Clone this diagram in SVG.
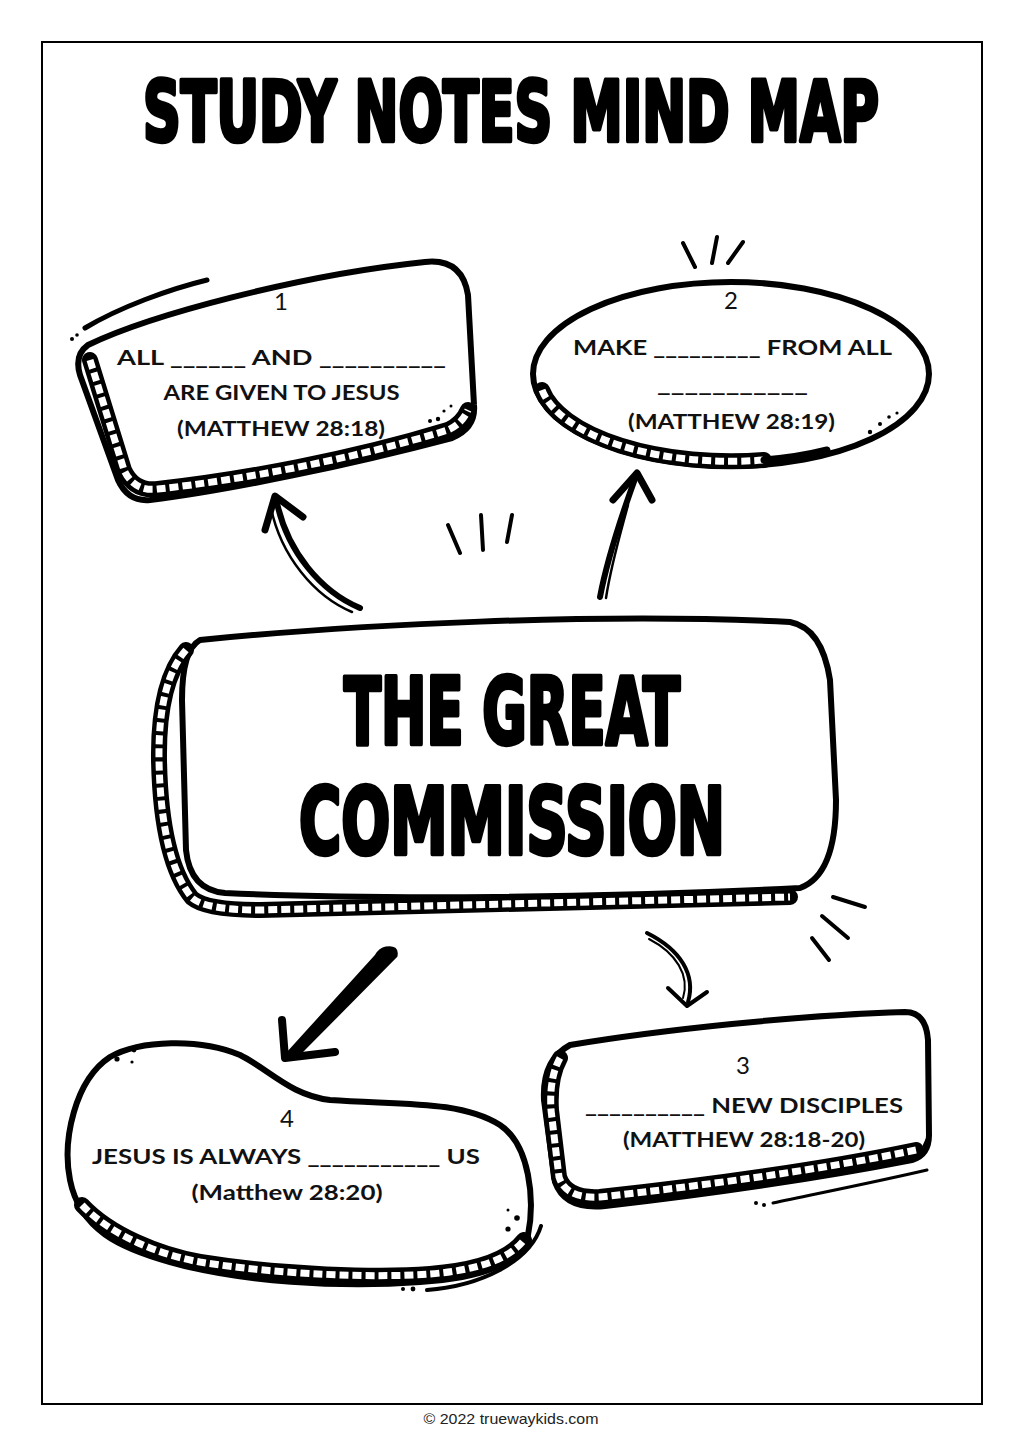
<svg xmlns="http://www.w3.org/2000/svg" width="1024" height="1447" viewBox="0 0 1024 1447">
<style>
.ol{fill:#fff;stroke:#000;stroke-width:6;stroke-linejoin:round;stroke-linecap:round}
.bandB{fill:none;stroke:#000;stroke-width:16;stroke-linecap:round;stroke-linejoin:round}
.bandW{fill:none;stroke:#fff;stroke-width:7;stroke-dasharray:9 4}
.ln{fill:none;stroke:#000;stroke-linecap:round;stroke-linejoin:round}
.hd{font-family:"Liberation Sans Narrow","DejaVu Sans Condensed","Liberation Sans",sans-serif;font-weight:bold;fill:#000;stroke:#000;stroke-width:4.5;stroke-linejoin:round;text-anchor:middle}
.tx{font-family:Lato,"Liberation Sans",sans-serif;font-weight:bold;font-size:21px;fill:#111;text-anchor:middle}
.num{font-family:Lato,"Liberation Sans",sans-serif;font-size:24px;fill:#111;text-anchor:middle}
.dot{fill:#000}
</style>
<rect x="42" y="42" width="940" height="1362" fill="#fff" stroke="#000" stroke-width="2"/>
<g id="title">
<text class="hd" x="511" y="141" font-size="84" textLength="736" lengthAdjust="spacingAndGlyphs">STUDY NOTES MIND MAP</text>
</g>
<g id="connectors">
<path class="ln" stroke-width="6" d="M360,608 C322,592 286,552 276,498"/>
<path class="ln" stroke-width="2.5" d="M352,612 C314,596 281,556 271,508"/>
<path class="ln" stroke-width="7" d="M265,530 L275,496 L303,517"/>
<path class="ln" stroke-width="6" d="M600,597 C607,560 620,520 636,476"/>
<path class="ln" stroke-width="2.5" d="M606,598 C611,565 620,535 628,505"/>
<path class="ln" stroke-width="7" d="M613,500 L637,473 L652,500"/>
<path d="M386,948 Q398,946 396,956 L298,1055 L288,1053 L376,956 Q380,949 386,948 Z" fill="#000" stroke="#000" stroke-width="3" stroke-linejoin="round"/>
<path class="ln" stroke="#fff" stroke-width="1.5" d="M388,953 L312,1032"/>
<path class="ln" stroke-width="8" d="M282,1020 L285,1058 L335,1052"/>
<path class="ln" stroke-width="4" d="M647,933 C681,950 696,975 688,1002"/>
<path class="ln" stroke-width="2" d="M649,939 C676,953 690,975 683,998"/>
<path class="ln" stroke-width="4" d="M668,988 L687,1006 L707,992"/>
</g>
<g id="bursts">
<path class="ln" stroke-width="4" d="M683,243 L695,267 M717,237 L712,263 M743,242 L728,263"/>
<path class="ln" stroke-width="4" d="M448,525 L460,553 M481,515 L483,550 M512,515 L507,542"/>
<path class="ln" stroke-width="4" d="M833,897 L865,907 M822,916 L848,938 M812,938 L829,960"/>
</g>
<g id="node1">
<path class="ol" d="M88,345 C150,315 300,275 425,262 Q462,258 468,295 L474,405 Q476,428 452,438 C350,465 230,490 150,500 Q128,502 118,480 L80,375 Q74,355 88,345 Z"/>
<path class="bandB" d="M90,360 L124,470 Q134,492 158,489 C240,480 350,460 448,430 Q462,424 468,410"/>
<path class="bandW" d="M90,360 L124,470 Q134,492 158,489 C240,480 350,460 448,430 Q462,424 468,410"/>
<path class="ln" stroke-width="5" d="M85,328 C120,307 170,289 207,280"/>
<circle class="dot" cx="72" cy="339" r="2"/><circle class="dot" cx="77" cy="335" r="1.8"/>
<circle class="dot" cx="430" cy="421" r="2"/><circle class="dot" cx="438" cy="419" r="2.2"/><circle class="dot" cx="444" cy="411" r="1.6"/><circle class="dot" cx="451" cy="406" r="1.5"/>
<text class="num" x="281" y="310">1</text>
<text class="tx" x="281.5" y="365" textLength="329" lengthAdjust="spacingAndGlyphs">ALL ______ AND __________</text>
<text class="tx" x="281.5" y="400" textLength="236" lengthAdjust="spacingAndGlyphs">ARE GIVEN TO JESUS</text>
<text class="tx" x="281" y="436" textLength="208" lengthAdjust="spacingAndGlyphs">(MATTHEW 28:18)</text>
</g>
<g id="node2">
<ellipse class="ol" cx="731" cy="374" rx="198" ry="92"/>
<path class="bandB" stroke-width="12" d="M542,390 A192 86 0 0 0 764,460"/>
<path class="bandW" stroke-width="5" d="M542,390 A192 86 0 0 0 764,460"/>
<path class="ln" stroke-width="7" d="M764,460 A192 86 0 0 0 827,450"/>
<path class="ln" stroke="#fff" stroke-width="2" stroke-dasharray="14 4" d="M766,459 A192 86 0 0 0 825,450"/>
<circle class="dot" cx="870" cy="432" r="2.2"/><circle class="dot" cx="880" cy="424" r="2"/><circle class="dot" cx="889" cy="417" r="1.8"/><circle class="dot" cx="897" cy="413" r="1.6"/>
<text class="num" x="731" y="309">2</text>
<text class="tx" x="732.5" y="355" textLength="319" lengthAdjust="spacingAndGlyphs">MAKE _________ FROM ALL</text>
<text class="tx" x="732.5" y="392" textLength="151" lengthAdjust="spacingAndGlyphs">___________</text>
<text class="tx" x="731.5" y="429" textLength="207" lengthAdjust="spacingAndGlyphs">(MATTHEW 28:19)</text>
</g>
<g id="node0">
<path class="ol" stroke-width="7" d="M200,640 C350,625 600,612 790,622 Q822,628 830,680 L836,800 Q836,875 800,888 C600,898 380,900 225,893 Q190,890 186,850 L182,700 Q182,650 200,640 Z"/>
<path class="bandB" stroke-width="24" d="M186,650 Q158,682 159,760 Q161,860 192,898 Q206,910 260,910 L790,897"/>
<path class="bandW" stroke-width="12" stroke-dasharray="14 5" d="M186,650 Q158,682 159,760 Q161,860 192,898 Q206,910 260,910 L790,897"/>
<text class="hd" x="512" y="744" font-size="92" textLength="336" lengthAdjust="spacingAndGlyphs">THE GREAT</text>
<text class="hd" x="512" y="854" font-size="92" textLength="426" lengthAdjust="spacingAndGlyphs">COMMISSION</text>
</g>
<g id="node3">
<path class="ol" d="M570,1045 C660,1030 800,1015 905,1012 Q926,1012 928,1040 L929,1135 Q929,1155 912,1160 C820,1178 700,1195 605,1206 Q565,1210 555,1182 L544,1100 Q542,1060 570,1045 Z"/>
<path class="bandB" d="M560,1058 Q549,1078 551,1110 L559,1177 Q566,1199 600,1197 C700,1186 820,1170 916,1150"/>
<path class="bandW" d="M560,1058 Q549,1078 551,1110 L559,1177 Q566,1199 600,1197 C700,1186 820,1170 916,1150"/>
<path class="ln" stroke-width="3" d="M773,1203 C820,1193 880,1181 927,1170"/>
<path class="ln" stroke-width="3" d="M924,1146 L928,1137"/>
<circle class="dot" cx="756" cy="1203" r="2"/><circle class="dot" cx="764" cy="1205" r="2"/>
<text class="num" x="743" y="1074">3</text>
<text class="tx" x="744" y="1113" textLength="318" lengthAdjust="spacingAndGlyphs">__________ NEW DISCIPLES</text>
<text class="tx" x="744" y="1147" textLength="242" lengthAdjust="spacingAndGlyphs">(MATTHEW 28:18-20)</text>
</g>
<g id="node4">
<path class="ol" d="M110,1057 C140,1040 200,1038 240,1055 C270,1070 290,1095 330,1100 C400,1105 460,1100 500,1125 C530,1145 535,1200 528,1235 C520,1265 480,1278 420,1282 C340,1288 240,1282 170,1262 C120,1248 80,1230 70,1180 C62,1140 75,1080 110,1057 Z"/>
<path class="bandB" stroke-width="14" d="M82,1205 C110,1235 160,1255 200,1262 C280,1275 380,1278 430,1274 C480,1270 510,1258 524,1240"/>
<path class="bandW" stroke-width="6" stroke-dasharray="12 4" d="M82,1205 C110,1235 160,1255 200,1262 C280,1275 380,1278 430,1274 C480,1270 510,1258 524,1240"/>
<path class="ln" stroke-width="4" d="M427,1290 C480,1286 530,1262 541,1226"/>
<circle class="dot" cx="403" cy="1289" r="2"/><circle class="dot" cx="413" cy="1289" r="2.4"/>
<circle class="dot" cx="117" cy="1059" r="2.6"/><circle class="dot" cx="134" cy="1050" r="2.4"/><circle class="dot" cx="132" cy="1062" r="1.6"/>
<circle class="dot" cx="517" cy="1218" r="2.8"/><circle class="dot" cx="508" cy="1229" r="2.6"/><circle class="dot" cx="508" cy="1210" r="1.5"/>
<text class="num" x="287" y="1127">4</text>
<text class="tx" x="286" y="1164" textLength="388" lengthAdjust="spacingAndGlyphs">JESUS IS ALWAYS ___________ US</text>
<text class="tx" x="287" y="1200" textLength="191" lengthAdjust="spacingAndGlyphs">(Matthew 28:20)</text>
</g>
<g id="footer">
<text x="511" y="1424" font-family="'Liberation Sans',sans-serif" font-size="15" fill="#222" text-anchor="middle" textLength="175" lengthAdjust="spacingAndGlyphs">© 2022 truewaykids.com</text>
</g>
</svg>
